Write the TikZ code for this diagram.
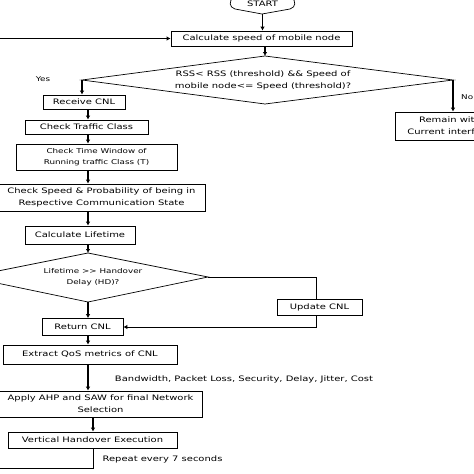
\documentclass[tikz,border=0pt]{standalone}
\usepackage{fontspec}
\setmainfont{DejaVu Sans}[FakeStretch=1.33]
\usetikzlibrary{arrows.meta}
\newcommand\fbase{\fontsize{7.5}{12}\selectfont}
\newcommand\fsmall{\fontsize{6.6}{11}\selectfont}
\begin{document}
\begin{tikzpicture}[x=1pt,y=-1pt,
  box/.style={draw, line width=0.7pt, inner sep=0pt, align=center, font=\fbase},
  lbl/.style={inner sep=0pt, font=\fbase},
  conn/.style={line width=1pt},
  arr/.style={line width=1.3pt,-{Latex[length=4pt,width=4.5pt]}},
  arrthin/.style={line width=1pt,-{Latex[length=4pt,width=4.5pt]}}]
\useasboundingbox (0,0) rectangle (474,474);

% START terminal
\node (start) [lbl, minimum width=61pt, minimum height=20pt] at (262.5,4) {START};
\draw[line width=0.7pt] (233,-3) .. controls (229,2) and (229,7) .. (235,9) -- (262,14) -- (290,9) .. controls (296,7) and (296,2) .. (292,-3);

\node (calc) [box, minimum width=181pt, minimum height=15pt] at (261.5,38.5) {Calculate speed of mobile node};

% decision 1
\coordinate (d1t) at (265,56);
\coordinate (d1b) at (265,104);
\coordinate (d1l) at (82,80);
\coordinate (d1r) at (453,80);
\draw[line width=0.7pt] (d1t) -- (d1r) -- (d1b) -- (d1l) -- cycle;
\node (d1) [lbl, align=center] at (263,80) {RSS< RSS (threshold) \&\& Speed of\\mobile node<= Speed (threshold)?};

\node (yes) [lbl, font=\fsmall] at (43,79) {Yes};
\node (no) [lbl, font=\fsmall, anchor=west] at (461,97) {No};

\node (recv) [box, minimum width=82pt, minimum height=14pt] at (84,102) {Receive CNL};
\node (remain) [box, minimum width=110pt, minimum height=28pt] at (450,126) {Remain with\\Current interface};

\node (traffic) [box, minimum width=123pt, minimum height=14pt] at (86.5,127) {Check Traffic Class};
\node (timewin) [box, font=\fsmall, minimum width=161pt, minimum height=26pt] at (96.5,157) {Check Time Window of\\Running traffic Class (T)};
\node (speed) [box, minimum width=207pt, minimum height=27pt] at (101.5,197.5) {Check Speed \& Probability of being in\\Respective Communication State};
\node (life) [box, minimum width=110pt, minimum height=18pt] at (80,235) {Calculate Lifetime};

% decision 2
\coordinate (d2t) at (88,253);
\coordinate (d2b) at (88,302);
\coordinate (d2l) at (-32,277);
\coordinate (d2r) at (208,277);
\draw[line width=0.7pt] (d2t) -- (d2r) -- (d2b) -- (d2l) -- cycle;
\node (d2) [lbl, font=\fsmall, align=center] at (93,277.5) {Lifetime >{}> Handover\\Delay (HD)?};

\node (update) [box, minimum width=85pt, minimum height=16pt] at (319.5,307) {Update CNL};
\node (ret) [box, minimum width=81pt, minimum height=17pt] at (82.5,327) {Return CNL};
\node (extract) [box, minimum width=174pt, minimum height=19pt] at (90,354.5) {Extract QoS metrics of CNL};
\node (apply) [box, minimum width=204pt, minimum height=26pt] at (100.5,404) {Apply AHP and SAW for final Network\\Selection};
\node (vert) [box, minimum width=169pt, minimum height=16pt] at (92.5,440) {Vertical Handover Execution};

\node (bw) [lbl] at (244,379) {Bandwidth, Packet Loss, Security, Delay, Jitter, Cost};
\node (rep) [lbl] at (162.5,459) {Repeat every 7 seconds};

\coordinate (colA) at (88,0);
\coordinate (colB) at (93,0);
\coordinate (colU) at (316,0);
\coordinate (loopc) at (-5,468);

% connectors
\draw[arr] (start.south) -- (start.south |- calc.north);
\draw[arr] (calc.south -| d1t) -- (d1t);
\draw[arr] (d1l) -- (d1l |- recv.north);
\draw[arr] (d1r) -- (d1r |- remain.north);
\draw[arr] (recv.south -| colA) -- (traffic.north -| colA);
\draw[arr] (traffic.south -| colA) -- (timewin.north -| colA);
\draw[arr] (timewin.south -| colA) -- (speed.north -| colA);
\draw[arr] (speed.south -| colA) -- (life.north -| colA);
\draw[arr] (life.south -| colA) -- (d2t);
\draw[arr] (d2b) -- (ret.north -| d2b);
\draw[conn] (d2r) -| (update.north -| colU);
\draw[arrthin] (update.south -| colU) |- (ret.east);
\draw[arr] (ret.south -| colA) -- (extract.north -| colA);
\draw[arr] (extract.south -| colA) -- (apply.north -| colA);
\draw[arr] (apply.south -| colB) -- (vert.north -| colB);
\draw[arrthin] (vert.south -| colB) |- (loopc) |- (calc.west);
\end{tikzpicture}
\end{document}
